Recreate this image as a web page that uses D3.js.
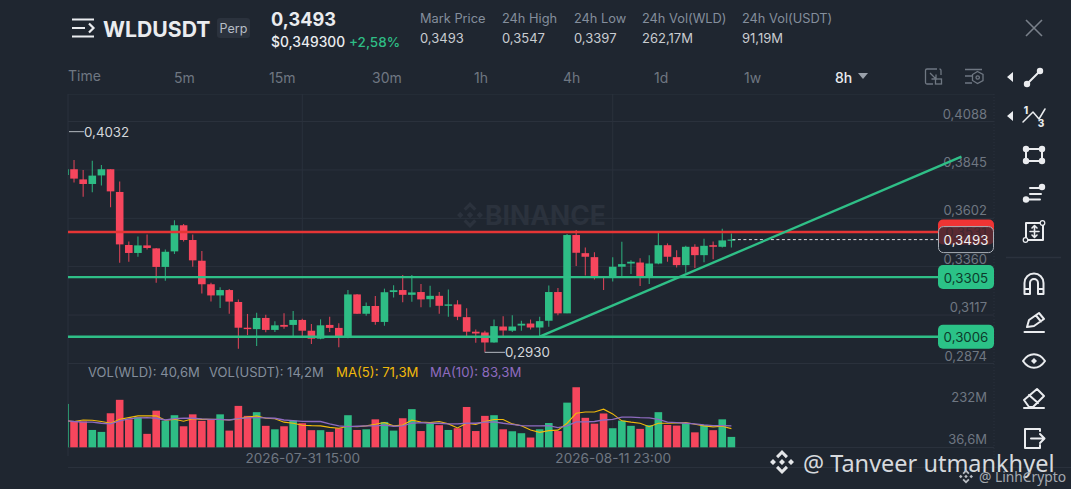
<!DOCTYPE html>
<html><head><meta charset="utf-8">
<script src="https://cdn.jsdelivr.net/npm/d3@7/dist/d3.min.js"></script>
<style>html,body{margin:0;padding:0;background:#1f2630;overflow:hidden}svg{display:block}text{font-family:Inter,"Noto Sans",sans-serif}</style>
</head><body><svg id="c" width="1071" height="489"></svg>
<script>
const opens=[.3817,.3846,.3795,.3772,.3815,.3846,.3732,.3466,.3426,.3464,.3449,.3356,.3434,.3565,.3491,.3387,.3269,.3213,.3240,.3180,.3051,.3044,.3100,.3040,.3065,.3065,.3090,.3036,.2996,.3065,.3050,.3006,.3218,.3121,.3160,.3080,.3230,.3240,.3216,.3230,.3194,.3211,.3161,.3168,.3104,.3031,.3027,.2977,.3057,.3036,.3062,.3072,.3052,.3086,.3230,.3123,.3516,.3425,.3405,.3308,.3307,.3357,.3373,.3378,.3310,.3373,.3465,.3405,.3365,.3457,.3415,.3465,.3457,.3490];
const closes=[.3846,.3799,.3772,.3814,.3846,.3735,.3469,.3426,.3464,.3451,.3356,.3432,.3565,.3491,.3389,.3269,.3213,.3240,.3182,.3051,.3044,.3100,.3040,.3063,.3056,.3090,.3036,.2996,.3063,.3050,.3009,.3218,.3121,.3160,.3080,.3229,.3239,.3216,.3228,.3193,.3211,.3161,.3168,.3106,.3031,.3022,.2977,.3059,.3037,.3057,.3071,.3052,.3084,.3230,.3123,.3516,.3427,.3407,.3310,.3305,.3357,.3370,.3382,.3310,.3373,.3465,.3407,.3365,.3457,.3415,.3462,.3457,.3489,.3493];
const highs=[.3846,.3892,.3842,.3889,.3867,.3846,.3784,.3484,.3509,.3519,.3451,.3444,.3590,.3571,.3519,.3436,.3277,.3254,.3245,.3193,.3120,.3126,.3116,.3083,.3123,.3135,.3096,.3070,.3093,.3106,.3073,.3240,.3220,.3178,.3210,.3247,.3264,.3315,.3315,.3270,.3261,.3230,.3243,.3189,.3149,.3042,.3036,.3092,.3109,.3114,.3086,.3092,.3106,.3263,.3250,.3521,.3541,.3454,.3429,.3310,.3404,.3482,.3390,.3399,.3414,.3527,.3474,.3440,.3462,.3470,.3497,.3484,.3547,.3524];
const lows=[.3817,.3779,.3708,.3730,.3765,.3655,.3377,.3382,.3407,.3444,.3277,.3287,.3421,.3483,.3357,.3223,.3182,.3150,.3121,.2946,.3014,.2959,.3028,.3030,.3046,.3006,.3009,.2969,.2993,.3030,.2953,.2998,.3120,.3111,.3066,.3061,.3202,.3179,.3181,.3154,.3154,.3121,.3106,.3089,.3009,.2975,.2930,.2975,.3009,.3029,.3036,.3042,.3009,.3056,.3113,.3123,.3360,.3313,.3293,.3240,.3283,.3307,.3320,.3260,.3270,.3370,.3382,.3353,.3327,.3350,.3380,.3395,.3454,.3454];
const volumes=[200,119,119,80,71,157,219,129,139,62,169,123,148,97,152,122,129,152,77,191,145,162,99,83,97,123,111,79,79,71,88,148,80,83,129,117,77,134,176,75,108,102,80,88,186,75,145,148,83,74,65,45,83,112,75,206,277,136,109,156,88,123,99,85,102,162,103,100,111,69,103,79,129,48];
const ma5=[122,119,126,125,119,111,129,137,145,145,145,125,129,120,132,129,129,128,126,131,139,145,134,132,116,111,102,100,99,92,88,97,95,99,106,114,99,103,125,117,114,119,108,89,111,106,119,128,128,108,99,80,69,77,79,111,157,163,163,176,154,122,116,111,95,111,111,112,114,106,99,94,97,86];
const ma10=[123,119,116,116,111,108,122,131,136,137,134,126,132,134,134,131,129,129,126,132,136,137,136,134,126,123,120,119,119,108,99,95,97,99,99,102,97,99,111,114,111,111,108,108,111,111,116,117,111,106,100,99,99,100,91,99,117,117,119,126,129,139,139,137,136,129,116,114,111,108,103,100,100,99];
const priceTicks=[.4088,.3845,.3602,.3360,.3117,.2874];
const volTicks=[232,36.6];
const timeTickIdx=[26,60];
const timeTickLabels=["2026-07-31 15:00","2026-08-11 23:00"];
const supportLevels=[.3305,.3006];
const resistanceLevel=.3531;
const lastPrice=.3493;
const trendIdx=[52,98.2];
const trendPrice=[.3006,.3909];
const intervals=["Time","5m","15m","30m","1h","4h","1d","1w","8h"];
const statLabels=["Mark Price","24h High","24h Low","24h Vol(WLD)","24h Vol(USDT)"];
const statValues=["0,3493","0,3547","0,3397","262,17M","91,19M"];

const comma=s=>s.replace(".",",");
const svg=d3.select("#c");
const GREEN="#2ebd85",RED="#f6465d",GRID="#2a313c",DIM="#6f7782",LBL="#848e9c";
const x=d3.scaleLinear().domain([0,73]).range([64.9,731.4]);
const y=d3.scaleLinear().domain([.4088,.2874]).range([121,363]);
const yv=d3.scaleLinear().domain([0,232]).range([447.3,397]);
const L=68,R=994;
svg.append("defs").append("clipPath").attr("id","pl").append("rect").attr("x",L).attr("y",94).attr("width",R-L).attr("height",360);

function T(p,tx,ty,s,size,fill,opt={}){return p.append("text").attr("x",tx).attr("y",ty).attr("font-size",size).attr("fill",fill).attr("font-weight",opt.w||400).attr("text-anchor",opt.a||"start").attr("dominant-baseline","central").style("font-family",opt.f||null).text(s);}

// frame lines
const fr=svg.append("g").attr("stroke",GRID).attr("stroke-width",1);
fr.append("line").attr("x1",L).attr("x2",L).attr("y1",94).attr("y2",456);
fr.append("line").attr("x1",R).attr("x2",R).attr("y1",94).attr("y2",467).attr("stroke-dasharray","1 2");
fr.append("line").attr("x1",L).attr("x2",R).attr("y1",94.5).attr("y2",94.5).attr("stroke-opacity",.5);
fr.append("line").attr("x1",L).attr("x2",R).attr("y1",447.5).attr("y2",447.5);
fr.append("line").attr("x1",L).attr("x2",1071).attr("y1",467.5).attr("y2",467.5);
timeTickIdx.forEach(i=>fr.append("line").attr("x1",x(i)).attr("x2",x(i)).attr("y1",94).attr("y2",447));

// price axis
const ax=svg.append("g").attr("transform",`translate(${L},0)`).call(d3.axisRight(y).tickValues(priceTicks).tickSize(R-L).tickFormat(d=>comma(d3.format(".4f")(d))));
ax.select(".domain").remove();
ax.selectAll("line").attr("stroke",GRID);
ax.selectAll("text").attr("x",R-L-7).attr("dy",-8).attr("text-anchor","end").attr("dominant-baseline","central").attr("fill",DIM).attr("font-size",13);

// volume axis
const av=svg.append("g").attr("transform",`translate(${L},0)`).call(d3.axisRight(yv).tickValues(volTicks).tickSize(0).tickFormat(d=>comma(String(d))+"M"));
av.select(".domain").remove();
av.selectAll("text").attr("x",R-L-7).attr("dy",-.5).attr("text-anchor","end").attr("dominant-baseline","central").attr("fill",DIM).attr("font-size",13);

// time axis labels
const at=svg.append("g").attr("transform","translate(0,458)").call(d3.axisBottom(x).tickValues(timeTickIdx).tickSize(0).tickFormat((d,i)=>timeTickLabels[i]));
at.select(".domain").remove();
at.selectAll("text").attr("y",0).attr("dy",0).attr("dominant-baseline","central").attr("fill",DIM).attr("font-size",13.6);

// watermark
T(svg,485,215,"BINANCE",26.5,"#2b323d",{w:700});
function bnb(p,cx,cy,s,fill){const g=p.append("g").attr("transform",`translate(${cx},${cy}) scale(${s})`).attr("fill",fill);
 g.append("path").attr("d","M0,-10 L5,-5 L3.2,-3.2 L0,-6.4 L-3.2,-3.2 L-5,-5Z M0,10 L5,5 L3.2,3.2 L0,6.4 L-3.2,3.2 L-5,5Z M-10,0 L-7.5,-2.5 L-5,0 L-7.5,2.5Z M10,0 L7.5,-2.5 L5,0 L7.5,2.5Z M0,-2.5 L2.5,0 L0,2.5 L-2.5,0Z");}
bnb(svg,470,215,1.3,"#2b323d");

const plot=svg.append("g").attr("clip-path","url(#pl)");
const idx=d3.range(opens.length);
const BW=7.6;
const col=i=>closes[i]>=opens[i]?GREEN:RED;
// volume bars
plot.selectAll(".v").data(idx).join("rect").attr("class","v").attr("x",i=>x(i)-BW/2).attr("width",BW).attr("y",i=>yv(volumes[i])).attr("height",i=>yv(0)-yv(volumes[i])).attr("fill",col);
// MA lines
const vline=arr=>d3.line().x((d,i)=>x(i)).y(d=>yv(d))(arr);
plot.append("path").attr("d",vline(ma5)).attr("fill","none").attr("stroke","#f0b90b").attr("stroke-width",1.1);
plot.append("path").attr("d",vline(ma10)).attr("fill","none").attr("stroke","#8e6bbf").attr("stroke-width",1.3);
// candles
plot.selectAll(".w").data(idx).join("line").attr("class","w").attr("x1",x).attr("x2",x).attr("y1",i=>y(highs[i])).attr("y2",i=>y(lows[i])).attr("stroke",col).attr("stroke-width",1.1).attr("stroke-opacity",.85);
plot.selectAll(".b").data(idx).join("rect").attr("class","b").attr("x",i=>x(i)-BW/2).attr("width",BW)
 .attr("y",i=>y(Math.max(opens[i],closes[i]))).attr("height",i=>Math.max(1.1,Math.abs(y(opens[i])-y(closes[i])))).attr("fill",col);

// last price dash
svg.append("line").attr("x1",x(73)+1).attr("x2",938).attr("y1",y(lastPrice)).attr("y2",y(lastPrice)).attr("stroke","#d8dbe0").attr("stroke-width",1).attr("stroke-dasharray","3 2.5");

// drawn levels
svg.append("line").attr("x1",L).attr("x2",938).attr("y1",y(resistanceLevel)).attr("y2",y(resistanceLevel)).attr("stroke","#e63535").attr("stroke-width",2.4);
supportLevels.forEach(p=>svg.append("line").attr("x1",L).attr("x2",938).attr("y1",y(p)).attr("y2",y(p)).attr("stroke","#2fbf87").attr("stroke-width",2.4));
svg.append("line").attr("x1",x(trendIdx[0])).attr("x2",x(trendIdx[1])).attr("y1",y(trendPrice[0])).attr("y2",y(trendPrice[1])).attr("stroke","#2fbf87").attr("stroke-width",2.4);

// level tags
supportLevels.forEach(p=>{svg.append("rect").attr("x",938).attr("y",y(p)-12).attr("width",56).attr("height",24).attr("rx",5).attr("fill","#2bc287");
 T(svg,966,y(p)+.5,comma(p.toFixed(4)),13.3,"#0c3b2b",{a:"middle"});});
svg.append("rect").attr("x",938).attr("y",y(resistanceLevel)-12.5).attr("width",56).attr("height",25).attr("rx",5).attr("fill","#ef3434");
T(svg,966,y(resistanceLevel),comma(resistanceLevel.toFixed(4)),13.3,"#8f2a2a",{a:"middle"});
svg.append("rect").attr("x",938.5).attr("y",y(lastPrice)-13).attr("width",55).attr("height",26).attr("rx",5).attr("fill","#1f2630").attr("fill-opacity",.72).attr("stroke","#aab0b8").attr("stroke-width",1);
T(svg,966,y(lastPrice),comma(lastPrice.toFixed(4)),13.3,"#f0f1f3",{a:"middle"});

// extreme labels
svg.append("line").attr("x1",69).attr("x2",84).attr("y1",y(.4032)-.5).attr("y2",y(.4032)-.5).attr("stroke","#b5bac1");
T(svg,84,y(.4032),"0,4032",13.3,"#d4d7db");
svg.append("path").attr("d",`M${x(46)},${y(.293)}V${y(.293)+.5}H505`).attr("fill","none").attr("stroke","#b5bac1");
T(svg,505,y(.293)+.5,"0,2930",13.3,"#d4d7db");

// indicator legend
T(svg,88,372,"VOL(WLD): 40,6M",13,LBL);
T(svg,209,372,"VOL(USDT): 14,2M",13,LBL);
T(svg,336,372,"MA(5): 71,3M",13.2,"#f0b90b");
T(svg,430,372,"MA(10): 83,3M",13.2,"#8e6bbf");

// header
const ic=svg.append("g").attr("stroke","#eaecef").attr("stroke-width",2.2).attr("fill","none");
ic.append("path").attr("d","M72,19.5H94 M72,28H85 M72,36.5H94 M89,23.5L93.5,28L89,32.5");
T(svg,103,29,"WLDUSDT",21.2,"#eaecef",{w:700});
svg.append("rect").attr("x",217).attr("y",18).attr("width",33).attr("height",20).attr("rx",3).attr("fill","#2b323d");
T(svg,233.5,28.5,"Perp",12.5,"#b7bdc6",{a:"middle"});
T(svg,271,18.5,"0,3493",18.2,"#eaecef",{w:700});
T(svg,271,41.5,"$0,349300",13.8,"#eaecef",{w:500});
T(svg,349,41.5,"+2,58%",13.5,GREEN,{w:500});
const statX=[420,502,574,642,742];
statLabels.forEach((s,i)=>{T(svg,statX[i],18,s,12.8,LBL);T(svg,statX[i],38,statValues[i],13,"#c9ccd1");});
const tabX=[68,174,269,372,474,563,654,744,835];
intervals.forEach((s,i)=>T(svg,tabX[i],i==0?75:77,s,14,i==8?"#eaecef":DIM,{w:i==8?500:400}));
svg.append("path").attr("d","M858,73H868L863,79Z").attr("fill","#9aa1ab");
const tb=svg.append("g").attr("stroke","#6f7782").attr("stroke-width",1.3).attr("fill","none");
tb.append("path").attr("d","M937,69H927a1.5,1.5 0 0 0 -1.5,1.5V82.5a1.5,1.5 0 0 0 1.5,1.5H933 M941,75V70.5a1.5,1.5 0 0 0 -1.5,-1.5 M930,73L936,79 M936,74.5V79H931.5");
tb.append("rect").attr("x",935.5).attr("y",79).attr("width",6).attr("height",5);
tb.append("path").attr("d","M965,69.5H982 M965,76H972 M965,83H972");
tb.append("path").attr("d","M977.5,71.5L983,74.5V80.5L977.5,83.5L972.5,80.5V74.5Z");
tb.append("circle").attr("cx",977.7).attr("cy",77.5).attr("r",1.7);

// right toolbar
const WH="#eaecef";
const rb=svg.append("g").attr("stroke",WH).attr("stroke-width",2).attr("fill","none").attr("stroke-linecap","round").attr("stroke-linejoin","round");
svg.append("path").attr("d","M1026,20L1042,36M1042,20L1026,36").attr("stroke","#79808a").attr("stroke-width",1.6).attr("fill","none");
svg.append("path").attr("d","M1013,72V82L1007,77Z M1013,111V121L1007,116Z").attr("fill",WH);
const dot=(cx,cy,r=3.2)=>svg.append("circle").attr("cx",cx).attr("cy",cy).attr("r",r).attr("fill",WH);
rb.append("path").attr("d","M1027,84L1040,71"); dot(1027,84);dot(1040,71);
rb.append("path").attr("d","M1023,122L1033,112L1039,119L1045,109").attr("stroke-width",1.5);
T(svg,1026,109.5,"1",10,WH,{w:800,a:"middle"}); T(svg,1041,123,"3",10,WH,{w:800,a:"middle"});
rb.append("rect").attr("x",1026).attr("y",149).attr("width",16).attr("height",12); [[1026,149],[1042,149],[1026,161],[1042,161]].forEach(d=>dot(d[0],d[1]));
rb.append("path").attr("d","M1030,188H1041 M1030,194H1041 M1027,199.5H1040"); dot(1042,187);dot(1026,199.5);
rb.append("rect").attr("x",1026).attr("y",223).attr("width",17).attr("height",17);
rb.append("path").attr("d","M1034.5,226V237 M1030,231.5H1039 M1032,228L1034.5,225.5L1037,228 M1032,235L1034.5,237.5L1037,235").attr("stroke-width",1.6);
svg.append("circle").attr("cx",1042.5).attr("cy",223).attr("r",2.3).attr("fill","#1f2630").attr("stroke",WH).attr("stroke-width",1.2);
svg.append("circle").attr("cx",1025.5).attr("cy",240).attr("r",2.3).attr("fill","#1f2630").attr("stroke",WH).attr("stroke-width",1.2);
svg.append("line").attr("x1",1006).attr("x2",1061).attr("y1",257.5).attr("y2",257.5).attr("stroke","#2b323d").attr("stroke-width",1.5);
rb.append("path").attr("d","M1024.5,294V283a9.5,9.5 0 0 1 19,0V294H1038V283a4,4 0 0 0 -8,0V294Z M1024.5,289H1030 M1038,289H1043.5");
rb.append("path").attr("d","M1027,327L1029,320L1039,313L1044,319L1034,326Z M1036,315.5L1041,321.5 M1024.5,332H1044");
rb.append("path").attr("d","M1023,361C1029,352 1039,352 1045,361C1039,370 1029,370 1023,361Z"); svg.append("path").attr("d","M1034,358L1037,361L1034,364L1031,361Z").attr("fill",WH);
rb.append("path").attr("d","M1024,400L1037,389L1044,396L1033,407H1029Z M1029,395L1038,403 M1024,408H1044");
rb.append("path").attr("d","M1040,431V429H1025V448H1040V445 M1031,438.5H1044 M1040,434L1044.5,438.5L1040,443");

// overlay credit
bnb(svg,782,462,1.2,"#e4e6e9");
T(svg,803,463,"@ Tanveer utmankhyel",23.5,"#d6d9dd",{f:"'Noto Sans'"});
bnb(svg,966,476.5,.7,"#b9bdc3");
T(svg,979,476.5,"@ LinhCrypto",13.8,"#a4a9b0",{f:"'Noto Sans'"});
</script></body></html>
